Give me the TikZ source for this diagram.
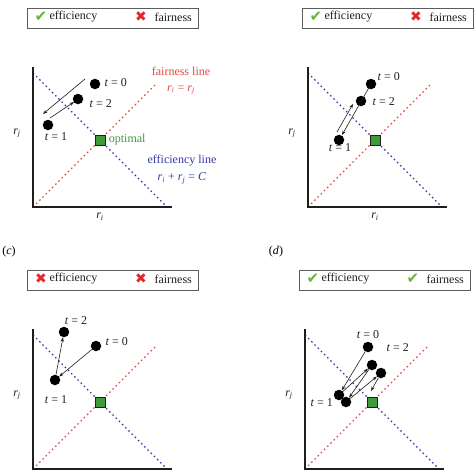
\documentclass[tikz,border=0pt]{standalone}
\usepackage{fontspec}
\setmainfont{Liberation Serif}
\newfontfamily\markfont{DejaVu Sans}
\usetikzlibrary{arrows.meta}
\definecolor{EffBlue}{HTML}{3438A6}
\definecolor{FairRed}{HTML}{DF4A3C}
\definecolor{OptGreen}{HTML}{3F9A3A}
\definecolor{CheckGreen}{HTML}{6AB23E}
\definecolor{CrossRed}{HTML}{E2262C}
\definecolor{FrameGray}{HTML}{5C5C5C}
\definecolor{Ink}{HTML}{1E1E1E}

\tikzset{
  axis/.style={draw=Ink, line width=1.3pt},
  effline/.style={draw=EffBlue, line width=1.3pt, dash pattern=on 1.5pt off 3pt},
  fairline/.style={draw=FairRed, line width=1.3pt, dash pattern=on 1.5pt off 3pt},
  optbox/.style={draw=Ink, fill=OptGreen, line width=0.7pt, minimum size=10pt, inner sep=0},
  rate/.style={circle, fill=black, minimum size=10.5pt, inner sep=0},
  move/.style={draw=Ink, line width=0.6pt, -{Stealth[length=4.5pt,width=3.2pt]}},
  legendbox/.style={draw=FrameGray, line width=0.9pt, minimum width=171pt, minimum height=20pt, inner sep=0},
  tick/.style={text=CheckGreen, font=\markfont\fontsize{15}{16}\selectfont},
  cross/.style={text=CrossRed, font=\markfont\fontsize{14}{16}\selectfont}
}
\newcommand{\tval}[1]{\textit{t} = #1}
\newcommand{\rsub}[1]{\textit{r}\textsubscript{\textit{#1}}}
\newcommand{\tickmark}{✔}
\newcommand{\crossmark}{✖}
% axes, the two reference lines and the optimum of one panel
\newcommand{\basepanel}[1]{
  \draw[effline] (33,73) -- (165,205);
  \draw[fairline] (33,207) -- (157,83);
  \draw[axis] (33,67) -- (33,207) -- (172,207);
  \node[optbox] (#1-opt) at (100,140) {};
  \node[text=Ink] (#1-rj) at (17,133) {\rsub{j}};
}

\begin{document}
\begin{tikzpicture}[x=1pt, y=-1pt, font=\fontsize{12}{14}\selectfont]
  \useasboundingbox (0,0) rectangle (474,474);

  % (a): efficient but unfair
  \begin{scope}
    \node[legendbox] (a-leg) at (112.5,18) {};
    \node[tick] (a-effmark) at (41,17) {\tickmark};
    \node[anchor=west, text=Ink] (a-eff) at (46,17) {efficiency};
    \node[cross] (a-fairmark) at (141,17) {\crossmark};
    \node[anchor=west, text=Ink] (a-fair) at (151,17) {fairness};
    \basepanel{a}
    \node[text=Ink] (a-ri) at (100,217) {\rsub{i}};
    \node[text=FairRed] (a-fairtxt) at (181,71) {fairness line};
    \node[text=FairRed] (a-faireq) at (181,90) {\rsub{i} = \rsub{j}};
    \node[text=EffBlue] (a-efftxt) at (182,161) {efficiency line};
    \node[text=EffBlue] (a-effeq) at (182,178) {\rsub{i} + \rsub{j} = \textit{C}};
    \node[anchor=west, text=OptGreen] (a-opttxt) at (a-opt.east) {optimal};
    \node[rate] (a0) at (95,84) {};
    \node[rate] (a2) at (78,99) {};
    \node[rate] (a1) at (48,125) {};
    \draw[move] ([shift={(-10,-5)}]a0.center) -- ([shift={(-5,-11)}]a1.center);
    \draw[move] ([shift={(2,-7)}]a1.center) -- ([shift={(-4,3)}]a2.center);
    \node[anchor=west, text=Ink] at (101,83) {\tval{0}};
    \node[anchor=west, text=Ink] at (86,104) {\tval{2}};
    \node[text=Ink] at (56,137) {\tval{1}};
  \end{scope}

  % (b): efficient but unfair, oscillating
  \begin{scope}[shift={(275,0)}]
    \node[legendbox] (b-leg) at (112.5,18) {};
    \node[tick] (b-effmark) at (41,17) {\tickmark};
    \node[anchor=west, text=Ink] (b-eff) at (46,17) {efficiency};
    \node[cross] (b-fairmark) at (141,17) {\crossmark};
    \node[anchor=west, text=Ink] (b-fair) at (151,17) {fairness};
    \basepanel{b}
    \node[text=Ink] (b-ri) at (100,217) {\rsub{i}};
    \node[rate] (b0) at (96,84) {};
    \node[rate] (b2) at (86,101) {};
    \node[rate] (b1) at (64,140) {};
    \draw[move] (b0.center) -- ([shift={(3,-5)}]b1.center);
    \draw[move] ([shift={(-2,-8)}]b1.center) -- ([shift={(-8,3)}]b2.center);
    \node[anchor=west, text=Ink] at (99,77) {\tval{0}};
    \node[anchor=west, text=Ink] at (94,102) {\tval{2}};
    \node[text=Ink] at (65,148) {\tval{1}};
  \end{scope}

  % (c): neither efficient nor fair
  \node (c-tag) at (9,252) {(\textit{c})};
  \begin{scope}[shift={(0,262)}]
    \node[legendbox] (c-leg) at (112.5,18) {};
    \node[cross] (c-effmark) at (41,17) {\crossmark};
    \node[anchor=west, text=Ink] (c-eff) at (46,17) {efficiency};
    \node[cross] (c-fairmark) at (141,17) {\crossmark};
    \node[anchor=west, text=Ink] (c-fair) at (151,17) {fairness};
    \basepanel{c}
    \node[rate] (c0) at (96,84) {};
    \node[rate] (c2) at (64,70) {};
    \node[rate] (c1) at (55,118) {};
    \draw[move] (c0) -- (c1);
    \draw[move] (c1) -- (c2);
    \node[text=Ink] at (76,59) {\tval{2}};
    \node[anchor=west, text=Ink] at (102,80) {\tval{0}};
    \node[text=Ink] at (56,138) {\tval{1}};
  \end{scope}

  % (d): efficient and fair
  \node (d-tag) at (276,252) {(\textit{d})};
  \begin{scope}[shift={(272,262)}]
    \node[legendbox] (d-leg) at (112.5,18) {};
    \node[tick] (d-effmark) at (41,17) {\tickmark};
    \node[anchor=west, text=Ink] (d-eff) at (46,17) {efficiency};
    \node[tick] (d-fairmark) at (141,17) {\tickmark};
    \node[anchor=west, text=Ink] (d-fair) at (151,17) {fairness};
    \basepanel{d}
    \node[rate] (d0) at (96,85) {};
    \node[rate] (d2) at (100,103) {};
    \node[rate] (d4) at (109,111) {};
    \node[rate] (d1) at (67,133) {};
    \node[rate] (d3) at (74,140) {};
    \coordinate (d5) at (99,129);
    \draw[move] (d0) -- (d1);
    \draw[move] (d1) -- (d2);
    \draw[move] (d2) -- (d3);
    \draw[move] (d3) -- (d4);
    \draw[move] (d4) -- (d5);
    \node[text=Ink] at (96,73) {\tval{0}};
    \node[anchor=west, text=Ink] at (111,86) {\tval{2}};
    \node[anchor=west, text=Ink] at (35,141) {\tval{1}};
  \end{scope}
\end{tikzpicture}
\end{document}
